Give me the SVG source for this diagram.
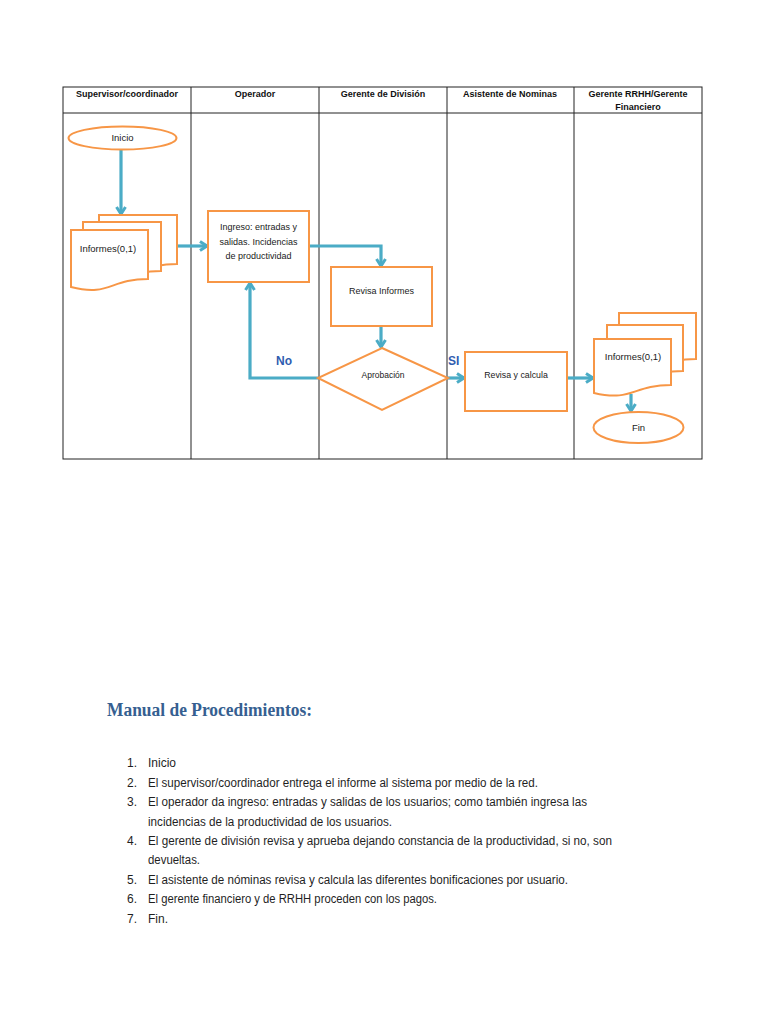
<svg xmlns="http://www.w3.org/2000/svg" width="768" height="1024" viewBox="0 0 768 1024">
<defs>
<style>
.tbl{fill:none;stroke:#222;stroke-width:1}
.hd{font-family:"Liberation Sans",Arial,sans-serif;font-weight:bold;font-size:9px;fill:#111;text-anchor:middle}
.sh{fill:#fff;stroke:#F79646;stroke-width:2}
.lb{font-family:"Liberation Sans",Arial,sans-serif;font-size:9px;fill:#1a1a1a;text-anchor:middle}
.cn{fill:none;stroke:#4BACC6;stroke-width:3.2}
.yn{font-family:"Liberation Sans",Arial,sans-serif;font-weight:bold;font-size:12px;fill:#2F5DB0}
.tt{font-family:"Liberation Serif","Times New Roman",serif;font-weight:bold;font-size:18px;fill:#365F91}
.li{font-family:"Liberation Sans",Arial,sans-serif;font-size:12px;fill:#1f1f1f}
</style>
<marker id="ah" viewBox="0 0 12 12" markerWidth="12" markerHeight="12" refX="10" refY="6" orient="auto" markerUnits="userSpaceOnUse">
<path d="M3,1.5 L10,6 L3,10.5" fill="none" stroke="#4BACC6" stroke-width="3"/>
</marker>
</defs>
<rect width="768" height="1024" fill="#fff"/>

<g id="table">
<rect class="tbl" x="63" y="87" width="639" height="372"/>
<line class="tbl" x1="63" y1="113" x2="702" y2="113"/>
<line class="tbl" x1="191" y1="87" x2="191" y2="459"/>
<line class="tbl" x1="319" y1="87" x2="319" y2="459"/>
<line class="tbl" x1="447" y1="87" x2="447" y2="459"/>
<line class="tbl" x1="574" y1="87" x2="574" y2="459"/>
<text class="hd" x="127" y="96.5">Supervisor/coordinador</text>
<text class="hd" x="255" y="96.5">Operador</text>
<text class="hd" x="383" y="96.5">Gerente de División</text>
<text class="hd" x="510" y="96.5">Asistente de Nominas</text>
<text class="hd" x="638" y="96.5">Gerente RRHH/Gerente</text>
<text class="hd" x="638" y="109.5">Financiero</text>
</g>

<g id="connectors">
<path class="cn" d="M121,149 V214" marker-end="url(#ah)"/>
<path class="cn" d="M177,246 H207" marker-end="url(#ah)"/>
<path class="cn" d="M309,246 H381 V266" marker-end="url(#ah)"/>
<path class="cn" d="M381,326 V347" marker-end="url(#ah)"/>
<path class="cn" d="M318,378 H250 V283" marker-end="url(#ah)"/>
<path class="cn" d="M448,378 H464" marker-end="url(#ah)"/>
<path class="cn" d="M567,378 H593" marker-end="url(#ah)"/>
<path class="cn" d="M631,394 V411" marker-end="url(#ah)"/>
<text class="yn" x="276" y="365">No</text>
<text class="yn" x="448" y="365">SI</text>
</g>

<g id="inicio">
<ellipse class="sh" cx="122.5" cy="138" rx="54" ry="11.5"/>
<text class="lb" x="122.5" y="141" style="font-size:9.5px">Inicio</text>
</g>

<g id="informes-sup">
<path class="sh" d="M99,215 H177 V264 C138,264 138,282 99,272 Z"/>
<path class="sh" d="M83,222 H161 V271 C122,271 122,289 83,279 Z"/>
<path class="sh" d="M71,230 H148 V279 C109.5,279 109.5,297 71,287 Z"/>
<text class="lb" x="108" y="252" style="font-size:9.5px">Informes(0,1)</text>
</g>

<g id="ingreso">
<rect class="sh" x="208" y="211" width="101" height="71"/>
<text class="lb" x="258.5" y="230">Ingreso: entradas y</text>
<text class="lb" x="258.5" y="244.5">salidas. Incidencias</text>
<text class="lb" x="258.5" y="259">de productividad</text>
</g>

<g id="revisa-informes">
<rect class="sh" x="331" y="267" width="101" height="59"/>
<text class="lb" x="381.5" y="294">Revisa Informes</text>
</g>

<g id="aprobacion">
<path class="sh" d="M382,348 L448,378 L382,410 L318,378 Z"/>
<text class="lb" x="383" y="378" style="font-size:8.5px">Aprobación</text>
</g>

<g id="revisa-calcula">
<rect class="sh" x="465" y="352" width="102" height="59"/>
<text class="lb" x="516" y="378" style="font-size:8.8px">Revisa y calcula</text>
</g>

<g id="informes-ger">
<path class="sh" d="M619,313 H696 V359 C657.5,359 657.5,376 619,367 Z"/>
<path class="sh" d="M607,325 H683 V371 C645,371 645,388 607,379 Z"/>
<path class="sh" d="M594,339 H671 V385 C632.5,385 632.5,402 594,393 Z"/>
<text class="lb" x="633" y="360" style="font-size:9.5px">Informes(0,1)</text>
</g>

<g id="fin">
<ellipse class="sh" cx="638.5" cy="427.5" rx="45" ry="15.5"/>
<text class="lb" x="638.5" y="431" style="font-size:9.5px">Fin</text>
</g>

<g id="manual">
<text class="tt" x="107" y="716" textLength="205" lengthAdjust="spacingAndGlyphs">Manual de Procedimientos:</text>
<text class="li" x="127" y="767">1.</text>
<text class="li" x="148" y="767">Inicio</text>
<text class="li" x="127" y="787">2.</text>
<text class="li" x="148" y="787" textLength="390" lengthAdjust="spacingAndGlyphs">El supervisor/coordinador entrega el informe al sistema por medio de la red.</text>
<text class="li" x="127" y="806">3.</text>
<text class="li" x="148" y="806" textLength="439" lengthAdjust="spacingAndGlyphs">El operador da ingreso: entradas y salidas de los usuarios; como también ingresa las</text>
<text class="li" x="148" y="825.5" textLength="244" lengthAdjust="spacingAndGlyphs">incidencias de la productividad de los usuarios.</text>
<text class="li" x="127" y="845">4.</text>
<text class="li" x="148" y="845" textLength="464" lengthAdjust="spacingAndGlyphs">El gerente de división revisa y aprueba dejando constancia de la productividad, si no, son</text>
<text class="li" x="148" y="864" textLength="52" lengthAdjust="spacingAndGlyphs">devueltas.</text>
<text class="li" x="127" y="884">5.</text>
<text class="li" x="148" y="884" textLength="420" lengthAdjust="spacingAndGlyphs">El asistente de nóminas revisa y calcula las diferentes bonificaciones por usuario.</text>
<text class="li" x="127" y="903">6.</text>
<text class="li" x="148" y="903" textLength="289" lengthAdjust="spacingAndGlyphs">El gerente financiero  y de RRHH proceden con los pagos.</text>
<text class="li" x="127" y="923">7.</text>
<text class="li" x="148" y="923">Fin.</text>
</g>
</svg>
